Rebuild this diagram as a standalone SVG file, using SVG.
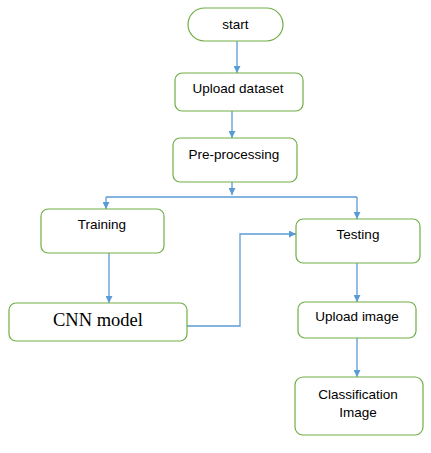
<svg xmlns="http://www.w3.org/2000/svg" width="431" height="453" viewBox="0 0 431 453">
<defs>
<marker id="arr" viewBox="0 0 10 10" refX="10" refY="5" markerWidth="7" markerHeight="7" markerUnits="userSpaceOnUse" orient="auto">
<path d="M0,0 L10,5 L0,10 z" fill="#5B9BD5"/>
</marker>
<style>
.box{fill:#fff;stroke:#70AD47;stroke-width:1.2}
.t{font-family:"Liberation Sans",Arial,sans-serif;font-size:13.5px;fill:#000;text-anchor:middle}
.s{font-family:"Liberation Serif","Times New Roman",serif;font-size:18.5px;fill:#000;text-anchor:middle}
.c{fill:none;stroke:#5B9BD5;stroke-width:1.3}
</style>
</defs>
<rect width="431" height="453" fill="#fff"/>
<g id="connectors">
<path class="c" d="M237,41 V73" marker-end="url(#arr)"/>
<path class="c" d="M232,111 V138" marker-end="url(#arr)"/>
<path class="c" d="M232,182 V195" marker-end="url(#arr)"/>
<path class="c" d="M106,197 H357"/>
<path class="c" d="M106,197 V209" marker-end="url(#arr)"/>
<path class="c" d="M357,197 V219" marker-end="url(#arr)"/>
<path class="c" d="M109,253 V303" marker-end="url(#arr)"/>
<path class="c" d="M187,326 H240 V234 H296" marker-end="url(#arr)"/>
<path class="c" d="M357,263 V302" marker-end="url(#arr)"/>
<path class="c" d="M357,338 V377" marker-end="url(#arr)"/>
</g>
<g id="start"><rect class="box" x="188" y="8" width="95" height="33" rx="16.5"/><text class="t" x="235.5" y="29">start</text></g>
<g id="upload-dataset"><rect class="box" x="175" y="73" width="128" height="38" rx="7"/><text class="t" x="238" y="93">Upload dataset</text></g>
<g id="pre-processing"><rect class="box" x="173" y="138" width="124" height="44" rx="7"/><text class="t" x="234" y="159">Pre-processing</text></g>
<g id="training"><rect class="box" x="41" y="209" width="123" height="44" rx="7"/><text class="t" x="102" y="229">Training</text></g>
<g id="testing"><rect class="box" x="296" y="219" width="124" height="44" rx="7"/><text class="t" x="358" y="239">Testing</text></g>
<g id="cnn-model"><rect class="box" x="9" y="303" width="178" height="38" rx="7"/><text class="s" x="98" y="326">CNN model</text></g>
<g id="upload-image"><rect class="box" x="298" y="302" width="118" height="36" rx="7"/><text class="t" x="357" y="321">Upload image</text></g>
<g id="classification-image"><rect class="box" x="295" y="377" width="128" height="58" rx="8"/><text class="t" x="358" y="399">Classification</text><text class="t" x="358" y="417">Image</text></g>
</svg>
